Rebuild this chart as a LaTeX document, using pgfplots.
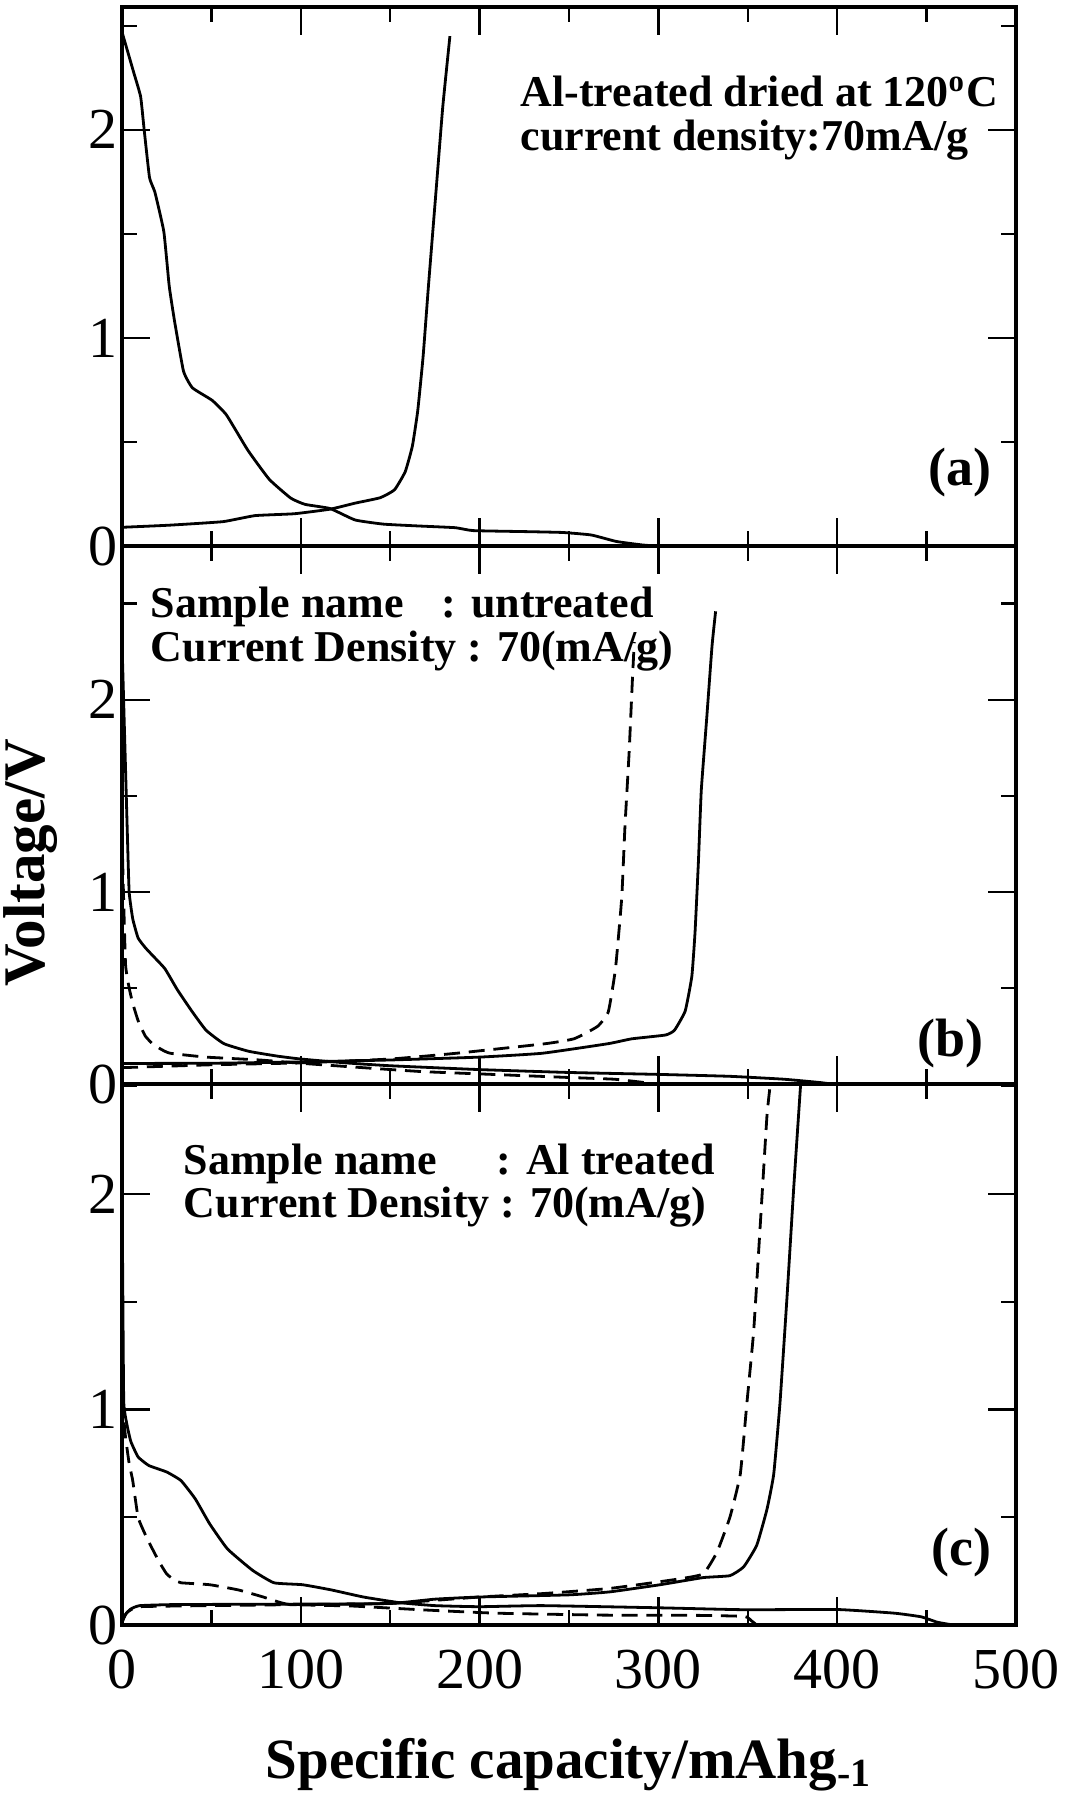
\documentclass[border=0pt]{standalone}
\usepackage{fontspec}
\setmainfont{Liberation Serif}
\usepackage{pgfplots}
\pgfplotsset{compat=1.18}
\pgfplotsset{
  panel/.style={
    scale only axis, width=223.5pt,
    xmin=0, xmax=500, ymin=0,
    xtick={0,100,200,300,400,500}, ytick={0,1,2},
    minor xtick={50,150,250,350,450},
    minor ytick={0.5,1.5,2.5},
    tick align=inside,
    major tick length=7pt, minor tick length=3.75pt,
    axis line style={line width=0.8pt},
    every tick/.style={black, line width=0.6pt},
    tick label style={font=\fontsize{14.5}{16}\selectfont},
    /pgf/number format/assume math mode=true,
    yticklabel style={inner sep=1pt},
    xticklabel style={inner sep=0pt, yshift=-6pt},
    anchor=north west,
  },
}
\tikzset{
  crv/.style={black, line width=0.7pt, smooth, tension=0.25},
  dsh/.style={black, line width=0.7pt, smooth, tension=0.25, dash pattern=on 4pt off 2.2pt},
  ann/.style={anchor=base west, inner sep=0pt, font=\fontsize{11}{13}\selectfont\bfseries},
  plab/.style={anchor=base east, inner sep=0pt, font=\fontsize{13.5}{15}\selectfont\bfseries},
}
\begin{document}
\begin{tikzpicture}
\useasboundingbox (0pt,0pt) rectangle (266.25pt,-450pt);
% ---------------- panel (a)
\begin{axis}[panel, at={(30.5pt,-1.75pt)}, height=134.75pt, ymax=2.59, xticklabels={}]
\addplot[crv] coordinates {
(0,2.47)(6.4,2.28)(10.4,2.16)(12.4,2.0)(15.4,1.77)(18.4,1.70)(23.4,1.51)(26.4,1.25)
(29.4,1.08)(34.4,0.84)(39.4,0.76)(50.4,0.70)(58.4,0.63)(70.4,0.46)(82.4,0.32)(94.4,0.23)
(102.4,0.20)(116.4,0.18)(130.4,0.125)(146.4,0.105)(166.4,0.096)(186.4,0.088)(196.4,0.074)
(226.4,0.069)(246.4,0.065)(262.4,0.053)(276.4,0.022)(290,0.006)(298,0)};
\addplot[crv] coordinates {
(0.4,0.09)(26.4,0.10)(56.4,0.117)(74.4,0.146)(96.4,0.155)(116.4,0.177)(130.4,0.206)
(144.4,0.232)(152.4,0.27)(158.4,0.357)(162.4,0.48)(165.4,0.65)(168.4,0.91)(171.4,1.25)
(175.4,1.68)(179.4,2.11)(183.4,2.45)};
\node[ann] at (rel axis cs:0.445,0.8145) {Al-treated dried at 120\textsuperscript{o}C};
\node[ann] at (rel axis cs:0.445,0.7347) {current density:70mA/g};
\node[plab] at (rel axis cs:0.973,0.112) {(a)};
\end{axis}
% ---------------- panel (b)
\begin{axis}[panel, at={(30.5pt,-136.5pt)}, height=134.5pt, ymax=2.8, xticklabels={},
  ylabel={Voltage/V},
  ylabel style={at={(axis description cs:-0.0872,0.411)}, anchor=base, font=\fontsize{14.75}{17}\selectfont\bfseries}]
\addplot[crv] coordinates {
(0.3,2.2)(1.5,1.8)(3,1.3)(4,1.0)(6,0.86)(9,0.76)(13,0.71)(17,0.67)(24,0.60)(31,0.49)
(39,0.38)(47,0.28)(57,0.21)(71,0.17)(87,0.145)(100,0.13)(125,0.11)(150,0.095)(200,0.075)
(250,0.06)(300,0.05)(340,0.04)(370,0.025)(390,0.008)(397,0)};
\addplot[crv] coordinates {
(0,0.107)(50,0.108)(100,0.115)(150,0.125)(200,0.14)(235,0.16)(272,0.21)(285,0.235)
(304,0.255)(309,0.28)(315,0.38)(318.7,0.56)(320.5,0.79)(322.4,1.16)(324,1.53)(327,1.9)
(330,2.28)(332,2.46)};
\addplot[dsh] coordinates {
(0,1.3)(0.8,1.0)(2,0.62)(4,0.5)(6,0.42)(9,0.33)(13,0.25)(17,0.21)(22,0.18)(27,0.16)
(47,0.14)(77,0.125)(97,0.11)(127,0.09)(167,0.065)(207,0.05)(247,0.035)(275,0.025)
(290,0.01)(298,0)};
\addplot[dsh] coordinates {
(0,0.085)(50,0.1)(100,0.11)(150,0.13)(187,0.16)(237,0.21)(253,0.236)(266,0.30)(272,0.376)
(276,0.6)(279.5,0.97)(281.3,1.34)(283.6,1.72)(285.4,2.09)(286.5,2.3)};
\node[ann] at (rel axis cs:0.0313,0.868) {Sample name\hspace{9.5pt}: untreated};
\node[ann] at (rel axis cs:0.0313,0.786) {Current Density : 70(mA/g)};
\node[plab] at (rel axis cs:0.965,0.052) {(b)};
\end{axis}
% ---------------- panel (c)
\begin{axis}[panel, at={(30.5pt,-271pt)}, height=135.25pt, ymax=2.51,
  xlabel={Specific capacity/mAhg\textsubscript{-1}},
  xlabel style={at={(axis description cs:0.5,-0.2828)}, anchor=base, font=\fontsize{14.25}{16}\selectfont\bfseries}]
\addplot[crv] coordinates {
(0,2.05)(0.5,1.5)(1,1.03)(3,0.92)(5,0.85)(9,0.78)(15,0.74)(25,0.71)(33,0.67)(41,0.585)
(49,0.47)(59,0.353)(73,0.254)(85,0.196)(101,0.187)(117,0.163)(135,0.13)(155,0.104)
(175,0.09)(200,0.085)(235,0.09)(300,0.08)(348,0.071)(400,0.072)(432,0.055)(447,0.038)
(456,0.013)(465,0)};
\addplot[crv] coordinates {
(0,0.01)(2,0.05)(5,0.075)(10,0.09)(30,0.095)(100,0.097)(150,0.1)(175,0.12)(200,0.13)
(250,0.14)(273,0.154)(301,0.187)(325,0.22)(340,0.229)(347.7,0.27)(355,0.37)(360.7,0.536)
(364.5,0.70)(368,1.03)(372,1.53)(375.7,2.03)(379.4,2.49)(379.6,2.51)};
\addplot[dsh] coordinates {
(0,1.4)(0.7,1.0)(2,0.87)(4,0.75)(6,0.67)(9,0.5)(13,0.42)(17,0.353)(21,0.29)(25,0.237)
(29,0.21)(33,0.196)(49,0.187)(65,0.163)(79,0.13)(93,0.096)(129,0.088)(169,0.07)(209,0.055)
(269,0.046)(320,0.045)(348,0.04)(352,0.02)(355,0)};
\addplot[dsh] coordinates {
(0,0.02)(3,0.06)(10,0.085)(50,0.09)(100,0.095)(150,0.1)(200,0.13)(235.5,0.146)(273,0.17)
(310,0.212)(325,0.237)(332.7,0.337)(340,0.50)(345.8,0.70)(349.5,1.03)(353.3,1.365)
(357,1.86)(360.7,2.36)(362.6,2.51)};
\node[ann] at (rel axis cs:0.0682,0.8325) {Sample name\hspace{15pt}: Al treated};
\node[ann] at (rel axis cs:0.0682,0.7533) {Current Density : 70(mA/g)};
\node[plab] at (rel axis cs:0.973,0.1096) {(c)};
\end{axis}
\end{tikzpicture}
\end{document}
